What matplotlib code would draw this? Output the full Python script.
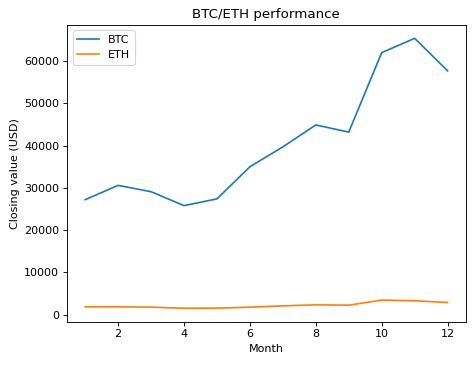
import matplotlib
matplotlib.use("Agg")
import matplotlib.pyplot as plt

months = [1, 2, 3, 4, 5, 6, 7, 8, 9, 10, 11, 12]
btc = [27200, 30600, 29100, 25800, 27400, 35000, 39700, 44900, 43200, 62000, 65400, 57700]
eth = [1840, 1850, 1780, 1520, 1540, 1760, 2080, 2320, 2240, 3440, 3280, 2880]

DPI = 80
fig, ax = plt.subplots(figsize=(474 / DPI, 365 / DPI), dpi=DPI)
ax.plot(months, btc, label="BTC")
ax.plot(months, eth, label="ETH")
ax.set_title("BTC/ETH performance")
ax.set_xlabel("Month")
ax.set_ylabel("Closing value (USD)")
ax.legend(loc="upper left")
fig.subplots_adjust(left=0.1414, right=0.9825, top=0.932, bottom=0.1186)
fig.savefig("out.png", dpi=DPI)
